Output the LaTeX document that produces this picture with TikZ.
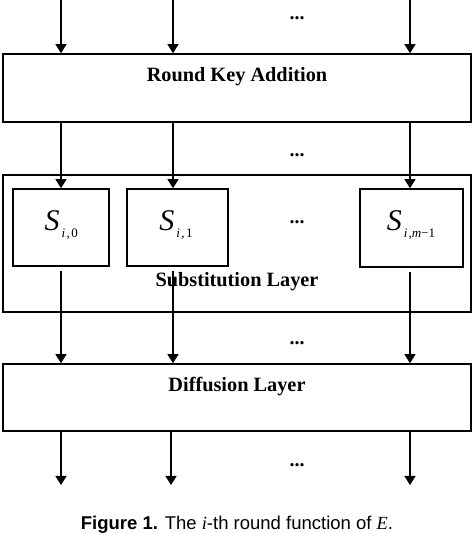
\documentclass[tikz,border=0pt]{standalone}
\usepackage{fontspec}
\setmainfont{Liberation Serif}
\newfontfamily\capfont{Liberation Sans}
\usetikzlibrary{arrows.meta}
\newcommand\Ssub[1]{{\fontsize{30}{30}\selectfont\itshape S}\kern2pt\raisebox{-7pt}{\fontsize{13}{13}\selectfont #1}}
\begin{document}
\begin{tikzpicture}[x=1pt,y=1pt,
 arr/.style={draw=black, line width=1.4pt, -{Triangle[width=11pt,length=9pt]}},
 bigbox/.style={draw, line width=1.6pt, minimum width=468pt, inner sep=0},
 sbox/.style={draw, line width=1.6pt, inner sep=0},
 lbl/.style={font=\fontsize{20.3}{20.3}\selectfont\bfseries, inner sep=0},
 dts/.style={font=\fontsize{20}{20}\selectfont\bfseries, anchor=base, inner sep=0},
 stxt/.style={inner sep=0, anchor=base}]
\useasboundingbox (0,0) rectangle (474,533);
% boxes
\node[bigbox, minimum height=68pt] (rk) at (237,445) {};
\node[lbl] (rkt) at (237,456) {Round Key Addition};
\node[bigbox, minimum height=137pt] (sub) at (237,289.5) {};
\node[sbox, minimum width=96pt, minimum height=77pt] (s0) at (61,305.5) {};
\node[sbox, minimum width=101pt, minimum height=77pt] (s1) at (177.5,305.5) {};
\node[sbox, minimum width=103pt, minimum height=78pt] (sm) at (411.5,305) {};
\node[stxt] (s0t) at (61.3,302) {\Ssub{\textit{i}\kern1.5pt,\kern1.5pt0}};
\node[stxt] (s1t) at (176,302) {\Ssub{\textit{i}\kern1.5pt,\kern1.5pt1}};
\node[stxt] (smt) at (411,302) {\Ssub{\textit{i}\kern1pt,\textit{m}−1}};
\node[lbl] (subt) at (237,251) {Substitution Layer};
\node[bigbox, minimum height=67pt] (df) at (237,135.5) {};
\node[lbl] (dft) at (237,146) {Diffusion Layer};
% dots
\node[dts] (d1) at (297,513) {...};
\node[dts] (d2) at (297,376) {...};
\node[dts] (d3) at (297,309) {...};
\node[dts] (d4) at (297,188) {...};
\node[dts] (d5) at (297,66) {...};
% columns
\coordinate (t1) at (61,533);
\coordinate (t2) at (173,533);
\coordinate (t3) at (410,533);
\coordinate (b1) at (61,48);
\coordinate (b2) at (171,48);
\coordinate (b3) at (410,48);
\foreach \c/\s in {t1/s0,t2/s1,t3/sm}{
  \draw[arr] (\c) -- (\c |- rk.north);
  \draw[arr] (rk.south -| \c) -- (\s.north -| \c);
  \draw[arr, shorten <=4pt] (\s.south -| \c) -- (df.north -| \c);
}
\foreach \c in {b1,b2,b3}{
  \draw[arr] (df.south -| \c) -- (\c);
}
% caption
\node[anchor=base, inner sep=0] (cap) at (237,3) {\capfont\fontsize{18.5}{18.5}\selectfont\textbf{Figure 1.} The {\rmfamily\itshape i}-th round function of {\rmfamily\itshape E}.};
\end{tikzpicture}
\end{document}
